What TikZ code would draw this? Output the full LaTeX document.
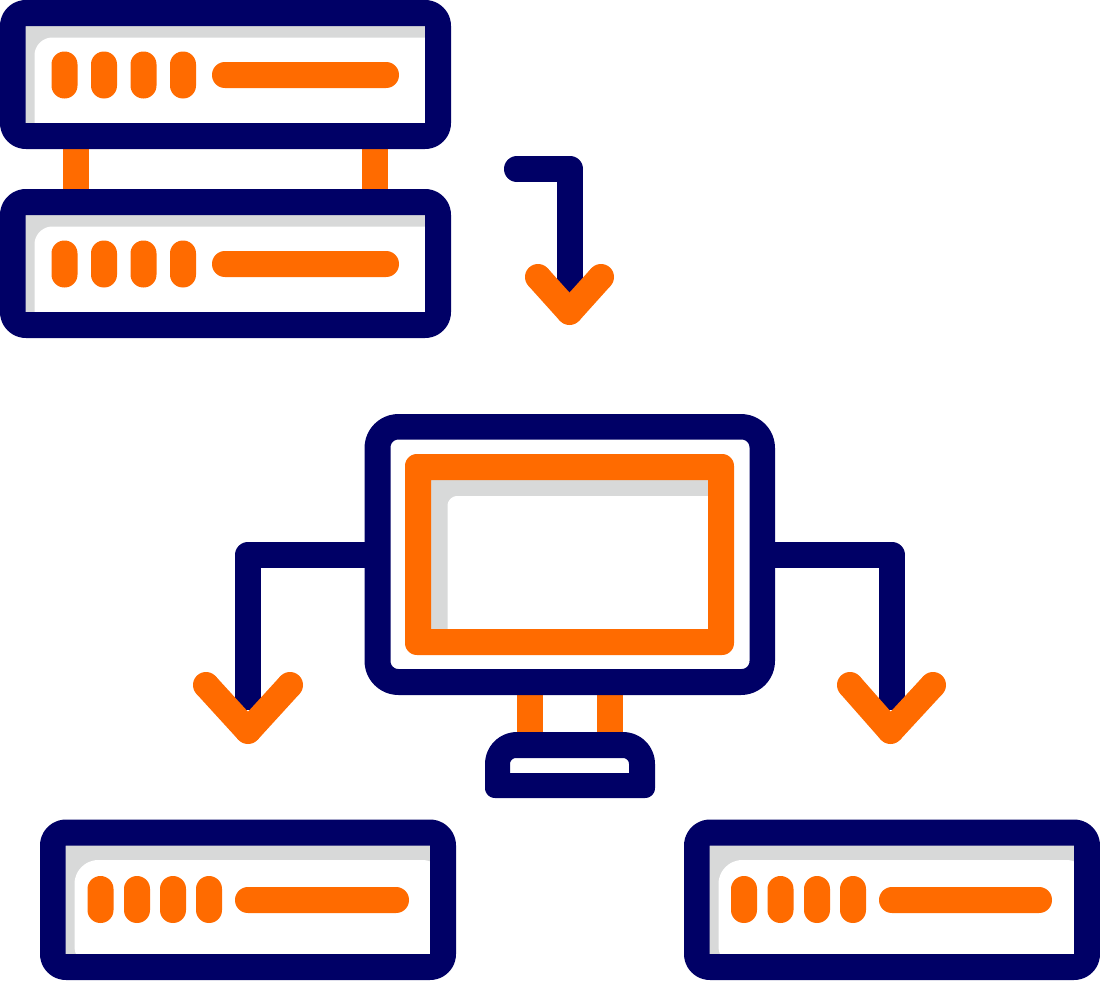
\documentclass[tikz,border=0pt]{standalone}
\definecolor{navy}{HTML}{000066}
\definecolor{orng}{HTML}{FF6B00}
\definecolor{shade}{HTML}{D8D9D9}
\tikzset{
  navyline/.style={draw=navy,line width=26pt,line join=bevel},
  orline/.style={draw=orng,line width=26pt,line join=bevel},
  grey/.style={fill=shade},
  blank/.style={fill=white}
}
% rounded rectangle as a path: left, top, right, bottom, radius
\newcommand{\rrect}[5]{%
  plot[domain=180:270,samples=13] ({#1+#5+#5*cos(\x)},{#2+#5+#5*sin(\x)})
  -- plot[domain=270:360,samples=13] ({#3-#5+#5*cos(\x)},{#2+#5+#5*sin(\x)})
  -- plot[domain=0:90,samples=13] ({#3-#5+#5*cos(\x)},{#4-#5+#5*sin(\x)})
  -- plot[domain=90:180,samples=13] ({#1+#5+#5*cos(\x)},{#4-#5+#5*sin(\x)})
  -- cycle}
\newcommand{\dotat}[3]{\fill[#1] plot[domain=0:360,samples=41] ({#2+13*cos(\x)},{#3+13*sin(\x)}) -- cycle;}
% vertical pill at x from y1 to y2 (outer)
\newcommand{\vpill}[3]{\fill[orng] \rrect{#1-13}{#2}{#1+13}{#3}{13};}
% horizontal pill at y from x1 to x2 (outer)
\newcommand{\hpill}[3]{\fill[orng] \rrect{#2}{#1-13}{#3}{#1+13}{13};}
% chevron: left end x, tip x, right end x, top y, tip y
\newcommand{\chev}[5]{\draw[orline] (#1,#4) -- (#2,#5) -- (#3,#4); \dotat{orng}{#1}{#4}\dotat{orng}{#2}{#5}\dotat{orng}{#3}{#4}}
% #1 left #2 top #3 right #4 bottom (outer), #5 grey top, #6 white radius, #7 pill centre y, #8 pill x list, #9 bar: y,x1,x2
\newcommand{\serverrack}[9]{%
  \fill[grey] ({#1+20},{#2+20}) rectangle ({#3-20},{#4-20});
  \fill[blank] \rrect{#1+34.5}{#2+25.5+#5}{#3-10}{#4-10}{#6};
  \fill[navy,even odd rule] \rrect{#1}{#2}{#3}{#4}{26} ({#1+25.5},{#2+26}) rectangle ({#3-26},{#4-26});
  \foreach \px in {#8} {\vpill{\px}{#7-23.5}{#7+23.5}}
  \hpill #9
}
\begin{document}
\begin{tikzpicture}[x=1pt,y=-1pt]
\useasboundingbox (0,0) rectangle (1100,980);
\fill[white] (0,0) rectangle (1100,980);

% links between the two upper racks
\draw[orline] (76,145) -- (76,193);
\draw[orline] (375,145) -- (375,193);

% upper racks
\serverrack{0}{0}{451}{149}{12}{18}{75}{64.5,104,143.5,183}{{75}{212}{399}}
\serverrack{0}{189}{451}{338}{12}{18}{264}{64.5,104,143.5,183}{{264}{212}{399}}

% arrow top
\draw[navyline] (517,169) -- (570,169) -- (570,305);
\dotat{navy}{517}{169}\dotat{navy}{570}{169}
\chev{538}{569.5}{601}{277}{312}

% side connectors
\draw[navyline] (370,555) -- (248,555) -- (248,710);
\dotat{navy}{248}{555}
\chev{206}{248}{290}{685}{731}
\draw[navyline] (770,555) -- (892,555) -- (892,710);
\dotat{navy}{892}{555}
\chev{850}{890.5}{933}{685}{731}

% stand
\draw[orline] (530,690) -- (530,738);
\draw[orline] (610,690) -- (610,738);

% monitor
\fill[navy,even odd rule] \rrect{364.5}{414}{775}{695}{34} \rrect{390.5}{439.5}{749.5}{669}{8};
\fill[grey] (420,470) rectangle (720,640);
\fill[blank] \rrect{447.5}{496}{725}{645}{10};
\fill[orng,even odd rule] \rrect{405}{454}{734}{655}{12} (431,480) rectangle (708,629);

% monitor base
\fill[navy,even odd rule]
  plot[domain=180:270,samples=17] ({517+32*cos(\x)},{764+32*sin(\x)})
  -- plot[domain=270:360,samples=17] ({623+32*cos(\x)},{764+32*sin(\x)})
  -- plot[domain=0:90,samples=9] ({645+10*cos(\x)},{788+10*sin(\x)})
  -- plot[domain=90:180,samples=9] ({495+10*cos(\x)},{788+10*sin(\x)})
  -- cycle
  (510,773)
  -- plot[domain=180:270,samples=7] ({516+6*cos(\x)},{764+6*sin(\x)})
  -- plot[domain=270:360,samples=7] ({623+6*cos(\x)},{764+6*sin(\x)})
  -- (629,773) -- cycle;

% lower racks
\serverrack{40}{819.5}{456}{980}{15}{24}{899.5}{100.5,137,173,209}{{900}{235}{409}}
\serverrack{684}{819.5}{1100}{980}{15}{24}{899.5}{744,780.5,817,853}{{900}{879}{1052}}
\end{tikzpicture}
\end{document}
